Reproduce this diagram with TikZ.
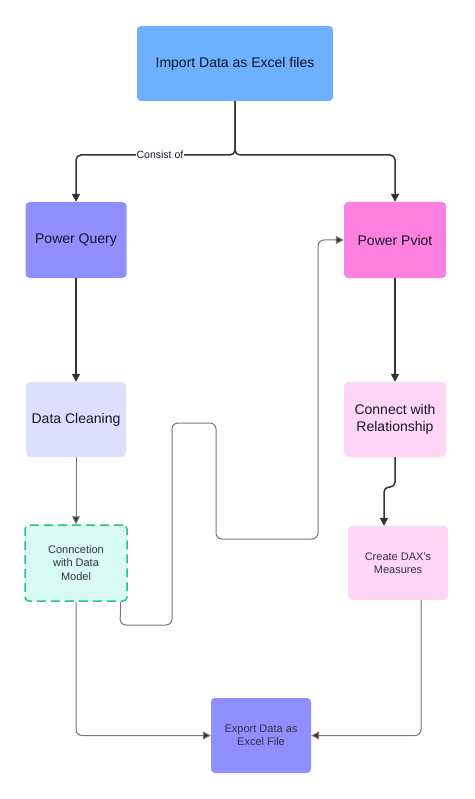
\documentclass[tikz,border=0pt]{standalone}
\usepackage{fontspec}
\setmainfont{Liberation Sans}
\usetikzlibrary{arrows.meta}
\definecolor{cImp}{RGB}{108,176,255}
\definecolor{cPQ}{RGB}{143,143,255}
\definecolor{cDC}{RGB}{222,222,255}
\definecolor{cPP}{RGB}{255,128,223}
\definecolor{cPink}{RGB}{255,214,245}
\definecolor{cConnF}{RGB}{215,250,242}
\definecolor{cConnD}{RGB}{40,190,150}
\definecolor{cTxt}{RGB}{22,22,40}
\definecolor{cTxtS}{RGB}{50,50,70}
\definecolor{cDark}{RGB}{51,51,51}
\definecolor{cGrey}{RGB}{120,120,120}
\begin{document}
\begin{tikzpicture}[x=1pt,y=-1pt,
  box/.style={rectangle, rounded corners=4pt, inner sep=0pt, align=center, text=cTxt},
  big/.style={font=\fontsize{14}{16.8}\selectfont},
  small/.style={font=\fontsize{11}{13.3}\selectfont, text=cTxtS},
  darkarrow/.style={draw=cDark, line width=1.5pt, -{Triangle[length=8pt,width=8pt]}, rounded corners=5pt},
  greyarrow/.style={draw=cGrey, line width=1pt, -{Triangle[length=8pt,width=8pt,fill=cDark]}, rounded corners=6pt},
  darkline/.style={draw=cDark, line width=1.5pt, rounded corners=5pt}]
\useasboundingbox (0,0) rectangle (474,799);
\fill[white] (0,0) rectangle (474,799);

\node[box, big, fill=cImp, minimum width=196pt, minimum height=75pt] (imp) at (235,63.5) {Import Data as Excel files};
\node[box, big, fill=cPQ, minimum width=101pt, minimum height=76pt] (pq) at (76,240) {Power Query};
\node[box, big, fill=cDC, minimum width=100pt, minimum height=75pt] (dc) at (76,419.5) {Data Cleaning};
\node[box, big, fill=cPP, minimum width=102pt, minimum height=76pt] (pp) at (395,240) {Power Pviot};
\node[box, big, fill=cPink, minimum width=102pt, minimum height=75pt] (cwr) at (395,419.5) {Connect with\\Relationship};
\node[box, small, fill=cConnF, draw=cConnD, line width=1.5pt, dash pattern=on 9pt off 5pt, minimum width=102pt, minimum height=76pt] (conn) at (76,563) {Conncetion\\with Data\\Model};
\node[box, small, fill=cPink, minimum width=100pt, minimum height=74pt] (dax) at (398,563) {Create DAX's\\Measures};
\node[box, small, fill=cPQ, minimum width=100pt, minimum height=75pt] (exp) at (261,735.5) {Export Data as\\Excel File};

% split from import
\draw[darkarrow] (imp.south) -- (235,155) -| (pq.north);
\draw[darkarrow] (imp.south) -- (235,155) -| (pp.north);
\node[fill=white, inner sep=1pt, font=\fontsize{10.5}{12}\selectfont, text=cTxt] (lbl) at (160,155) {Consist of};

% straight flows
\draw[darkarrow] (pq.south) -- (dc.north);
\draw[darkarrow] (pp.south) -- (cwr.north);
\draw[greyarrow] (dc.south) -- (conn.north);

% relationship -> DAX with jog
\coordinate (j1) at (395,487);
\coordinate (j2) at (384,487);
\draw[darkarrow] (cwr.south) -- (j1) -- (j2) -- ([xshift=-14pt]dax.north);

% loop from connection to power pivot
\coordinate (l0) at ([xshift=-7pt]conn.south east);
\coordinate (l1) at (120,625);
\coordinate (l2) at (172,625);
\coordinate (l3) at (172,423);
\coordinate (l4) at (216,423);
\coordinate (l5) at (216,539);
\coordinate (l6) at (318,539);
\coordinate (l7) at (318,240);
\draw[greyarrow] (l0) -- (l1) -- (l2) -- (l3) -- (l4) -- (l5) -- (l6) -- (l7) -- (pp.west);

% to export
\draw[greyarrow] (conn.south) |- (exp.west);
\draw[greyarrow] ([xshift=23pt]dax.south) |- (exp.east);
\end{tikzpicture}
\end{document}
